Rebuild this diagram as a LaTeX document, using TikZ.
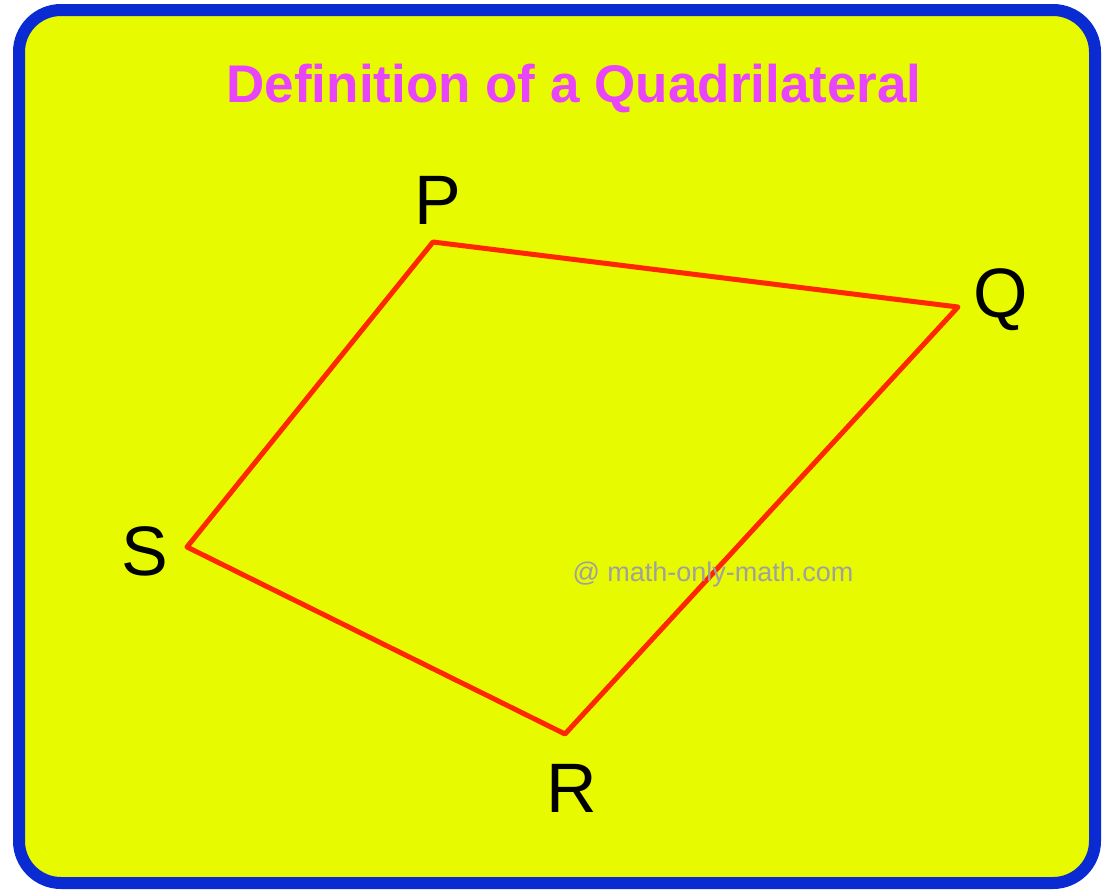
\documentclass[tikz,border=0pt]{standalone}
\usepackage{fontspec}
\setmainfont{Liberation Sans}
\usepackage{tikz}
\usetikzlibrary{positioning}
\definecolor{amarillo}{RGB}{232, 250, 0}
\definecolor{azul}{RGB}{10, 43, 210}
\definecolor{rojo}{RGB}{255, 38, 0}
\definecolor{magenta}{RGB}{232, 69, 250}
\definecolor{gris}{RGB}{160, 160, 160}
\tikzset{
    marco/.style={draw=azul, fill=amarillo, line width=12pt, rounded corners=42pt},
    titulo/.style={text=magenta, font=\fontsize{53}{58}\selectfont\bfseries, inner sep=0pt},
    vert/.style={text=black, font=\fontsize{70}{74}\selectfont, inner sep=0pt},
    lado/.style={draw=rojo, line width=5pt, line join=round},
    marca/.style={text=gris, font=\fontsize{27}{30}\selectfont, inner sep=0pt},
}
\begin{document}
\begin{tikzpicture}[x=1pt, y=-1pt]
    \useasboundingbox (0,0) rectangle (1109,895);
    \draw[marco] (19,10) rectangle (1095,883);

    \node[titulo] (tit) at (574,89) {Definition of a Quadrilateral};

    % vertices
    \coordinate (p) at (433,242);
    \coordinate (q) at (958,307);
    \coordinate (r) at (565,734);
    \coordinate (s) at (187,547);

    \draw[lado] (p) -- (q) -- (r) -- (s) -- cycle;

    \node[vert] (lp) at (438,200) {P};
    \node[vert] (lq) at (1001,300) {Q};
    \node[vert] (lr) at (572,788) {R};
    \node[vert] (ls) at (145,551) {S};

    \node[marca] (wm) at (713,575) {@ math-only-math.com};
\end{tikzpicture}
\end{document}
